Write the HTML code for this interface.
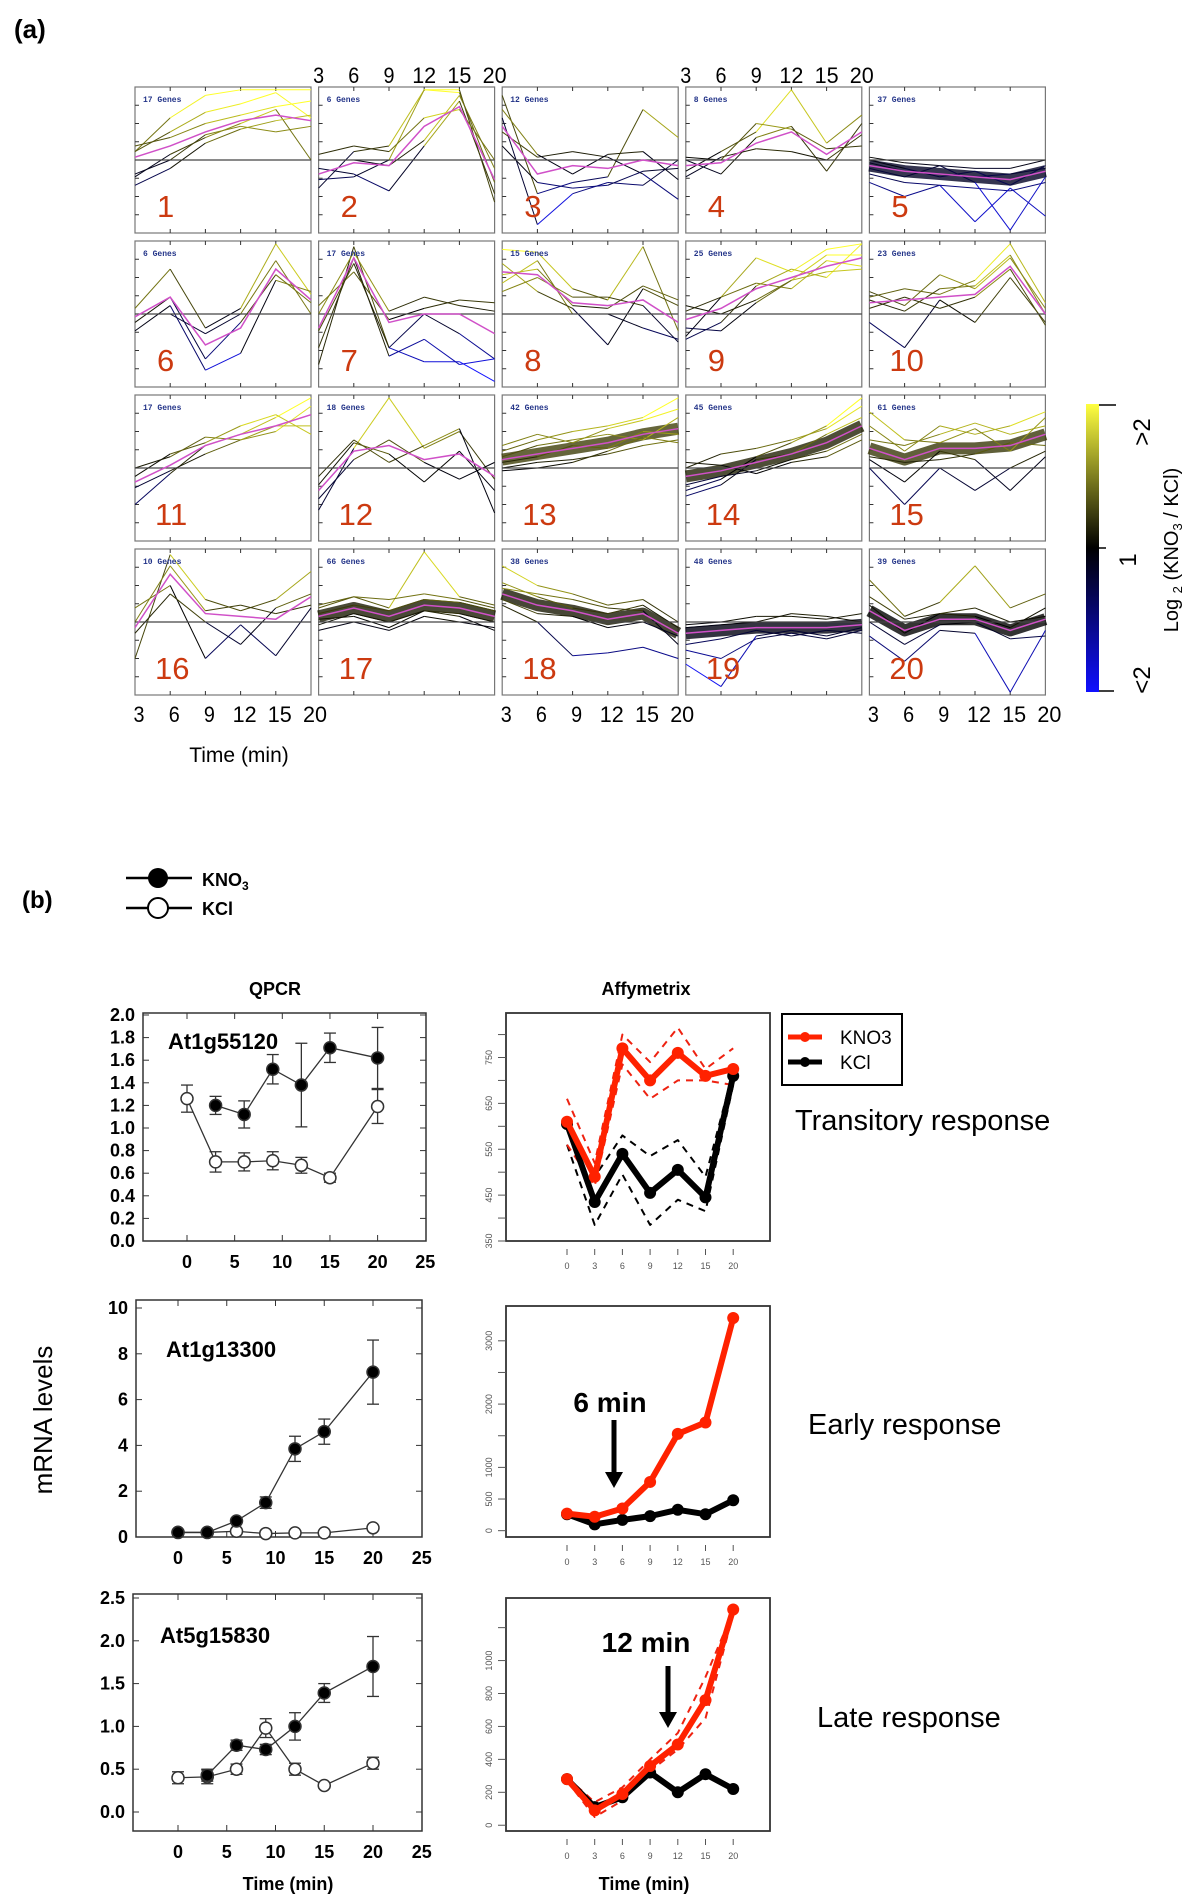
<!DOCTYPE html>
<html><head><meta charset="utf-8"><style>
html,body{margin:0;padding:0;background:#fff;}
svg{display:block;font-family:"Liberation Sans",sans-serif;}
</style></head><body>
<svg id="fig" width="1200" height="1904" viewBox="0 0 1200 1904" xmlns="http://www.w3.org/2000/svg">
<text x="14" y="38" font-size="26" font-weight="bold">(a)</text>
<text x="239" y="762" font-size="21" text-anchor="middle">Time (min)</text>
<defs><linearGradient id="cbg" x1="0" y1="0" x2="0" y2="1"><stop offset="0" stop-color="#ffff40"/><stop offset="0.5" stop-color="#000000"/><stop offset="1" stop-color="#1010ff"/></linearGradient></defs>
<g>
<rect x="1086" y="404" width="13" height="288" fill="url(#cbg)"/>
<line x1="1099" y1="405" x2="1116" y2="405" stroke="#000" stroke-width="1.5"/>
<line x1="1099" y1="548" x2="1106" y2="548" stroke="#000" stroke-width="1.5"/>
<line x1="1099" y1="691" x2="1114" y2="691" stroke="#000" stroke-width="1.5"/>
<text transform="translate(1150,432) rotate(-90)" font-size="24" text-anchor="middle">&gt;2</text>
<text transform="translate(1136,560) rotate(-90)" font-size="24" text-anchor="middle">1</text>
<text transform="translate(1150,680) rotate(-90)" font-size="24" text-anchor="middle">&lt;2</text>
<text transform="translate(1178,550) rotate(-90)" font-size="20" text-anchor="middle">Log <tspan font-size="13" dy="4">2</tspan><tspan dy="-4"> (KNO</tspan><tspan font-size="13" dy="4">3</tspan><tspan dy="-4"> / KCl)</tspan></text>
</g>
<g id="clusters"></g>

<text x="22" y="908" font-size="24" font-weight="bold">(b)</text>
<g>
<line x1="126" y1="878" x2="192" y2="878" stroke="#000" stroke-width="2.5"/>
<circle cx="158" cy="878" r="10" fill="#000"/>
<text x="202" y="886" font-size="18" font-weight="bold">KNO<tspan font-size="12" dy="4">3</tspan></text>
<line x1="126" y1="908" x2="192" y2="908" stroke="#000" stroke-width="2.5"/>
<circle cx="158" cy="908" r="10" fill="#fff" stroke="#000" stroke-width="2"/>
<text x="202" y="915" font-size="18" font-weight="bold">KCl</text>
</g>
<text x="275" y="995" font-size="18" font-weight="bold" text-anchor="middle">QPCR</text>
<text x="646" y="995" font-size="18" font-weight="bold" text-anchor="middle">Affymetrix</text>
<text transform="translate(52,1420) rotate(-90)" font-size="26" text-anchor="middle">mRNA levels</text>
<text x="288" y="1890" font-size="18" font-weight="bold" text-anchor="middle">Time (min)</text>
<text x="644" y="1890" font-size="18" font-weight="bold" text-anchor="middle">Time (min)</text>
<text x="795" y="1130" font-size="29">Transitory response</text>
<text x="808" y="1434" font-size="29">Early response</text>
<text x="817" y="1727" font-size="29">Late  response</text>
<g id="bcharts"></g>
</svg>
<script>
// ---------- Panel (a) cluster data ----------
const clusterGeneCounts=[17,6,12,8,37,6,17,15,25,23,17,18,42,45,61,10,66,38,48,39];
const timeTicks=["3","6","9","12","15","20"];
const clusterMeans=[
[0.1,0.5,1.0,1.4,1.6,1.4],[-0.5,-0.1,-0.2,1.2,1.9,-0.7],[1.2,-0.5,-0.2,-0.3,0,-0.2],[-0.2,-0.1,0.6,1.0,0.2,1.0],[-0.2,-0.4,-0.5,-0.6,-0.7,-0.4],
[-0.1,0.6,-1.1,-0.5,1.6,0.5],[-0.5,2.0,-0.3,0,0,-0.7],[1.5,1.4,0.4,0.3,0.5,-0.3],[-0.2,0.2,0.9,1.3,1.7,2.0],[0.4,0.5,0.6,0.7,1.7,0.0],
[-0.5,0.1,0.8,1.2,1.5,1.9],[-0.8,0.6,0.8,0.3,0.5,-0.3],[0.3,0.5,0.7,0.9,1.2,1.4],[-0.3,-0.1,0.2,0.5,0.9,1.5],[0.7,0.3,0.7,0.7,0.8,1.2],
[-0.2,1.7,0.3,0.2,0.1,0.9],[0.2,0.5,0.2,0.6,0.5,0.2],[1.0,0.6,0.4,0.1,0.3,-0.4],[-0.4,-0.3,-0.2,-0.2,-0.2,-0.1],[0.4,-0.3,0.1,0.1,-0.3,0.1]];
const clusterGenes=[
[[0.3,1.5,2.3,2.5,2.5,2.5],[0.3,1.0,1.7,2.0,2.4,1.5],[-0.5,0,0.9,1.2,1.0,1.2],[-0.6,0.2,0.8,1.3,1.8,0.0],[0.5,0.8,1.3,1.6,1.9,2.1],[-0.9,-0.3,0.6,1.1,1.4,1.6]],
[[-1.0,0.3,0.5,2.5,2.5,-1.5],[0,0,-0.2,0.7,2.3,-0.3],[-0.3,-0.5,-1.1,0.5,2.1,-1.2],[-0.7,-0.6,0,2.5,2.4,-0.8],[0.2,0.5,0.3,1.5,1.8,0]],
[[2.3,-1.2,-0.8,-0.6,1.8,0.8],[1.5,-2.3,-1.2,-0.8,-0.9,0],[1.0,0.1,0.3,0.1,-0.5,-1.4],[0.5,-0.8,-1.0,-0.9,-0.4,-0.3],[1.8,0.2,-0.5,0.2,0.3,-0.7]],
[[-0.4,0.3,1.0,2.5,0.6,1.6],[0,-0.5,0.8,1.2,-0.4,1.3],[-0.6,0.1,0.4,0.3,0.0,0.9],[0.1,0,1.3,1.1,0.4,0.5]],
[[0.1,-0.1,-0.2,-0.3,-0.3,0],[-0.5,-0.8,-0.9,-1.0,-1.1,-0.8],[-0.8,-1.3,-0.9,-2.2,-1.0,-2.0],[0,-0.3,-0.6,-0.4,-0.9,-0.2],[-0.3,-0.6,-0.2,-0.8,-2.5,-0.6],[-0.1,-0.4,-0.5,-0.6,-0.5,-0.3]],
[[0.2,1.6,-0.5,0.2,2.5,0.7],[-0.6,0.3,-2.0,-1.4,1.2,0.8],[0,0,-0.7,0,1.9,0],[-0.3,0.6,-1.6,-0.3,1.4,0.4]],
[[-1.8,2.4,-1.2,-1.7,-1.7,-2.4],[0,2.2,0.1,0.6,0.3,0.1],[-0.6,1.8,-1.2,0.0,-0.7,-1.6],[0.3,1.5,-0.2,0.2,0.5,0.4],[-1.2,2.0,-1.5,-0.9,-1.8,-1.6]],
[[2.3,2.2,0.9,0.5,2.4,-0.6],[1.1,1.9,0.0,0.0,-0.5,-0.9],[1.8,0.8,0.2,-1.1,0.9,0.3],[0.8,1.3,0.6,0.6,0.3,-1.0],[1.4,1.6,0.3,0.2,1.0,0.5]],
[[-0.8,0.6,2.0,1.5,2.3,2.5],[0.3,0.0,0.5,1.2,2.1,2.1],[-0.9,-0.3,1.0,1.6,1.3,2.5],[0.1,0.6,1.1,0.9,1.9,1.7],[-0.5,-0.6,0.4,1.2,1.5,1.6]],
[[0.6,0.9,0.7,1.2,2.5,0.4],[-0.3,-1.2,0.5,-0.3,1.3,-0.3],[0.8,0.3,1.4,0.9,2.0,0.2],[0.2,0.6,0.2,0.6,1.6,-0.4],[0.5,0.1,0.9,1.0,2.1,0.0]],
[[-1.3,-0.2,0.8,1.2,1.8,2.5],[-0.3,0.5,0.9,1.5,1.9,1.2],[-0.7,-0.1,0.5,1.0,1.3,2.2],[0,0.4,1.1,1.0,1.5,1.5]],
[[-1.5,0.7,2.5,0.7,1.3,-0.4],[-0.3,1.0,0.2,0.8,1.4,-1.6],[-1.1,0.3,1.0,0.2,-0.4,0.2],[-0.6,0.9,0.5,-0.5,0.6,-0.8]],
[[0.6,1.0,1.3,1.5,1.8,2.5],[0.0,0.2,0.3,0.5,0.8,1.0],[0.4,0.8,1.0,1.2,1.0,1.8],[-0.1,0.0,0.2,0.6,1.1,0.9],[0.8,1.2,0.9,1.4,1.7,2.1],[0.2,0.4,0.8,0.7,1.3,1.2]],
[[-0.8,-0.4,0.4,0.9,1.5,2.5],[0.2,0.1,-0.2,0.2,0.4,1.0],[-1.0,-0.6,0.3,0.5,1.2,1.8],[0,0.5,0.7,1.0,1.4,2.2],[-0.6,-0.3,-0.1,0.3,0.6,1.2]],
[[1.5,0.6,1.5,1.2,1.5,2.0],[0.0,-1.3,0.0,-0.8,0.0,0.6],[1.0,0.8,1.2,1.6,1.2,1.5],[0.4,0.2,0.3,0.5,0.9,0.8],[2.0,1.0,0.9,1.4,0.6,1.8],[0.3,-0.5,0.6,0.3,-0.8,0.4]],
[[-1.3,2.4,0.8,0.4,0.8,1.8],[0.5,1.3,-1.3,-0.1,-1.2,0.5],[0,2.0,0.4,0.6,0.3,0.6],[-0.4,1.0,0.0,-0.8,0.5,1.0]],
[[0.5,0.9,0.5,2.5,0.9,0.6],[-0.3,0.0,-0.3,0.2,0.0,-0.2],[0.3,0.6,0.4,0.8,0.7,0.4],[-0.1,0.3,0.0,0.4,0.3,0.0],[0.6,0.9,0.8,1.0,0.8,0.5],[0.1,0.2,-0.2,0.4,0.2,-0.3]],
[[2.0,1.3,1.0,0.6,0.8,0.0],[0.6,0.0,-1.2,-1.1,-0.9,-1.3],[1.4,0.9,0.5,0.3,0.6,-0.2],[0.8,0.3,0.2,-0.2,0.0,-0.5],[1.2,1.0,0.8,0.5,0.4,-0.8]],
[[-1.5,-2.3,-0.5,-0.3,-0.5,-0.2],[-0.1,0.0,0.2,0.2,0.1,0.3],[-0.8,-0.6,-0.3,-0.5,-0.3,-0.4],[-0.2,-0.1,0.0,0.3,0.2,0.0],[-1.0,-1.3,-0.6,-0.4,-0.6,-0.3]],
[[1.5,0.2,0.7,2.0,0.5,1.0],[-0.5,-1.4,-0.3,-0.4,-2.5,-0.3],[0.6,-0.4,0.3,0.2,-0.2,0.5],[0.0,-0.8,-0.1,0.0,-0.6,-0.5],[0.9,0.1,0.3,0.5,0.0,0.2]]];

// ---------- Panel (b) data ----------
const qTimes=[0,3,6,9,12,15,20];
const q1KNO3=[null,1.20,1.12,1.52,1.38,1.71,1.62];
const q1KNO3Err=[0,0.08,0.12,0.13,0.37,0.13,0.27];
const q1KCl=[1.26,0.70,0.70,0.71,0.67,0.56,1.19];
const q1KClErr=[0.12,0.09,0.08,0.08,0.07,0.04,0.15];
const q2KNO3=[0.2,0.2,0.7,1.5,3.85,4.6,7.2];
const q2KNO3Err=[0,0,0.1,0.25,0.55,0.55,1.4];
const q2KCl=[0.2,0.2,0.25,0.15,0.18,0.18,0.4];
const q2KClErr=[0,0,0,0,0,0,0.1];
const q3KNO3=[null,0.43,0.78,0.73,1.0,1.39,1.7];
const q3KNO3Err=[0,0.07,0.06,0.06,0.16,0.11,0.35];
const q3KCl=[0.40,0.41,0.50,0.98,0.50,0.31,0.57];
const q3KClErr=[0.07,0.08,0.06,0.11,0.07,0.03,0.07];
const affyTimes=["0","3","6","9","12","15","20"];
const a1KNO3=[610,490,770,700,760,710,725];
const a1KNO3Hi=[660,520,800,740,815,725,770];
const a1KNO3Lo=[560,470,735,660,700,700,690];
const a1KCl=[605,435,540,455,505,445,710];
const a1KClHi=[600,490,580,535,570,490,720];
const a1KClLo=[560,385,495,385,440,415,690];
const a2KNO3=[270,220,350,770,1530,1710,3360];
const a2KCl=[260,100,170,230,330,260,480];
const a3KNO3=[280,90,190,360,490,760,1310];
const a3KNO3Hi=[290,140,230,400,560,900,1300];
const a3KNO3Lo=[270,50,150,330,460,650,1280];
const a3KCl=[280,110,170,320,200,310,220];

const NS="http://www.w3.org/2000/svg";
function mk(tag,attrs,parent){const e=document.createElementNS(NS,tag);for(const k in attrs)e.setAttribute(k,attrs[k]);parent.appendChild(e);return e;}
function valColor(v){
  const t=Math.max(-1,Math.min(1,v/2));
  if(t>=0){const c=Math.round(255*t);return `rgb(${c},${c},${Math.round(40*t)})`;}
  const c=Math.round(255*-t);return `rgb(${Math.round(20*-t)},${Math.round(20*-t)},${c})`;
}
// Panel (a)
const cg=document.getElementById('clusters');
for(let i=0;i<20;i++){
  const col=i%5,row=Math.floor(i/5);
  const x0=135+col*183.6,y0=87+row*154,w=176,h=146;
  const xs=k=>x0+k*w/5;
  const ys=v=>y0+h/2-v*(h/2)/2.6;
  const g=mk('g',{},cg);
  
  
  const fr=mk('rect',{x:x0,y:y0,width:w,height:h,fill:'#fff',stroke:'#777','stroke-width':1.2},g);
  
  
  for(let k=1;k<5;k++){mk('line',{x1:xs(k),y1:y0,x2:xs(k),y2:y0+4,stroke:'#333'},g);mk('line',{x1:xs(k),y1:y0+h,x2:xs(k),y2:y0+h-4,stroke:'#333'},g);}
  for(let k=1;k<8;k++){mk('line',{x1:x0,y1:y0+k*h/8,x2:x0+4,y2:y0+k*h/8,stroke:'#333'},g);}
  const dense=clusterGeneCounts[i]>30;
  if(dense){
    const band=mk('polyline',{points:clusterMeans[i].map((v,k)=>xs(k)+','+ys(v)).join(' '),fill:'none',stroke:valColor(clusterMeans[i].reduce((a,b)=>a+b)/6*0.6),'stroke-width':12,'stroke-opacity':0.8,'stroke-linejoin':'round'},g);
    
    
  }
  clusterGenes[i].forEach(gene=>{
    for(let k=0;k<5;k++){
      const s=mk('line',{x1:xs(k),y1:ys(gene[k]),x2:xs(k+1),y2:ys(gene[k+1]),stroke:valColor((gene[k]+gene[k+1])/2),'stroke-width':1},g);
      
      
    }
  });
  const zl=mk('line',{x1:x0,y1:ys(0),x2:x0+w,y2:ys(0),stroke:'#444','stroke-width':1.2},g);
  
  
  const m=mk('polyline',{points:clusterMeans[i].map((v,k)=>xs(k)+','+ys(v)).join(' '),fill:'none',stroke:'#d050c8','stroke-width':1.5},g);
  
  
  const gt=mk('text',{x:x0+8,y:y0+15,'font-size':8,fill:'#223388','font-family':'Liberation Mono, monospace','font-weight':'bold'},g);
  gt.textContent=clusterGeneCounts[i]+' Genes';
  
  
  const nt=mk('text',{x:x0+(i<9?22:20),y:y0+h-16,'font-size':31,fill:'#cc3a10'},g);
  nt.textContent=String(i+1);
  
  
  let lab=null;
  if(i===1||i===3) lab=y0-4;
  if(i===15||i===17||i===19) lab=y0+h+27;
  if(lab!==null){
    timeTicks.forEach((t,k)=>{
      const tt=mk('text',{x:xs(k)+(row===3?4:0),y:lab,'font-size':22,'text-anchor':'middle',textLength:t.length>1?24:11,lengthAdjust:'spacingAndGlyphs'},g);
      tt.textContent=t;
      
      
    });
  }
}

// Panel (b)
const bg=document.getElementById('bcharts');
function qpcr(name,label,box,xmax,ymin,ymax,yTicks,yFmt,kno3,kno3e,kcl,kcle,labelPos){
  const g=mk('g',{},bg);
  
  
  const [bx0,by0,bx1,by1,xz,xu,yTop,yBot]=box;
  const xs=t=>xz+t*xu;
  const ys=v=>yBot-(v-ymin)/(ymax-ymin)*(yBot-yTop);
  mk('rect',{x:bx0,y:by0,width:bx1-bx0,height:by1-by0,fill:'none',stroke:'#333','stroke-width':1.5},g);
  [0,5,10,15,20,25].forEach(t=>{
    if(t<25){mk('line',{x1:xs(t),y1:by1,x2:xs(t),y2:by1-6,stroke:'#333'},g);mk('line',{x1:xs(t),y1:by0,x2:xs(t),y2:by0+6,stroke:'#333'},g);}
    const tl=mk('text',{x:xs(t),y:by1+27,'font-size':18,'font-weight':'bold','text-anchor':'middle'},g);
    tl.textContent=String(t);
    
    
  });
  yTicks.forEach(v=>{
    mk('line',{x1:bx0,y1:ys(v),x2:bx0+6,y2:ys(v),stroke:'#333'},g);
    mk('line',{x1:bx1,y1:ys(v),x2:bx1-6,y2:ys(v),stroke:'#333'},g);
    const tl=mk('text',{x:bx0-8,y:ys(v)+6,'font-size':18,'font-weight':'bold','text-anchor':'end'},g);
    tl.textContent=yFmt(v);
    
    
  });
  const gl=mk('text',{x:labelPos[0],y:labelPos[1],'font-size':22,'font-weight':'bold'},g);
  gl.textContent=label;
  
  
  function series(vals,errs,filled,sname){
    const pts=[];vals.forEach((v,k)=>{if(v!==null)pts.push(xs(qTimes[k])+','+ys(v));});
    const pl=mk('polyline',{points:pts.join(' '),fill:'none',stroke:'#333','stroke-width':1.3},g);
    
    
    vals.forEach((v,k)=>{
      if(v===null)return;
      const x=xs(qTimes[k]);
      if(errs[k]>0){
        mk('line',{x1:x,y1:ys(v-errs[k]),x2:x,y2:ys(v+errs[k]),stroke:'#333','stroke-width':1.3},g);
        mk('line',{x1:x-6,y1:ys(v-errs[k]),x2:x+6,y2:ys(v-errs[k]),stroke:'#333','stroke-width':1.3},g);
        mk('line',{x1:x-6,y1:ys(v+errs[k]),x2:x+6,y2:ys(v+errs[k]),stroke:'#333','stroke-width':1.3},g);
      }
      const c=mk('circle',{cx:x,cy:ys(v),r:6,fill:filled?'#000':'#fff',stroke:'#333','stroke-width':1.5},g);
      
      
    });
  }
  series(kcl,kcle,false,'kcl');
  series(kno3,kno3e,true,'kno3');
}
qpcr('qpcr-at1g55120','At1g55120',[143,1013,426,1241,187,9.53,1015,1241],25,0,2,[0,0.2,0.4,0.6,0.8,1.0,1.2,1.4,1.6,1.8,2.0],v=>v.toFixed(1),q1KNO3,q1KNO3Err,q1KCl,q1KClErr,[168,1049]);
qpcr('qpcr-at1g13300','At1g13300',[136,1300,422,1537,178,9.75,1308,1537],25,0,10,[0,2,4,6,8,10],v=>String(v),q2KNO3,q2KNO3Err,q2KCl,q2KClErr,[166,1357]);
qpcr('qpcr-at5g15830','At5g15830',[133,1594,422,1831,178,9.75,1598,1812],25,0,2.5,[0,0.5,1.0,1.5,2.0,2.5],v=>v.toFixed(1),q3KNO3,q3KNO3Err,q3KCl,q3KClErr,[160,1643]);

function affy(name,box,ymin,ymax,yTicks,yLabeled,kno3,kno3hi,kno3lo,kcl,kclhi,kcllo){
  const g=mk('g',{},bg);
  
  
  const [bx0,by0,bx1,by1]=box;
  const xs=k=>567+k*27.7;
  const ys=v=>by1-(v-ymin)/(ymax-ymin)*(by1-by0);
  mk('rect',{x:bx0,y:by0,width:bx1-bx0,height:by1-by0,fill:'none',stroke:'#333','stroke-width':1.8},g);
  affyTimes.forEach((t,k)=>{
    mk('line',{x1:xs(k),y1:by1+8,x2:xs(k),y2:by1+14,stroke:'#555'},g);
    const tl=mk('text',{x:xs(k),y:by1+28,'font-size':9,fill:'#555','text-anchor':'middle'},g);
    tl.textContent=t;
    
    
  });
  yTicks.forEach(v=>{
    mk('line',{x1:bx0-8,y1:ys(v),x2:bx0,y2:ys(v),stroke:'#555'},g);
    if(yLabeled.indexOf(v)>=0){
      const tl=mk('text',{transform:`translate(${bx0-14},${ys(v)}) rotate(-90)`,'font-size':9,fill:'#555','text-anchor':'middle'},g);
      tl.textContent=String(v);
      
      
    }
  });
  function line(vals,color,w,dash,sname,dots){
    const pl=mk('polyline',{points:vals.map((v,k)=>xs(k)+','+ys(v)).join(' '),fill:'none',stroke:color,'stroke-width':w,'stroke-dasharray':dash||'none','stroke-linejoin':'round'},g);
    
    
    if(dots) vals.forEach((v,k)=>{
      const c=mk('circle',{cx:xs(k),cy:ys(v),r:6,fill:color},g);
      
      
    });
  }
  if(kclhi){line(kclhi,'#000',2,'7,6','kcl-upper-dashed');line(kcllo,'#000',2,'7,6','kcl-lower-dashed');}
  if(kno3hi){line(kno3hi,'#ee2211',2,'7,6','kno3-upper-dashed');line(kno3lo,'#ee2211',2,'7,6','kno3-lower-dashed');}
  line(kcl,'#000',6,null,'kcl-line',true);
  line(kno3,'#ff2200',6,null,'kno3-line',true);
}
affy('affy-transitory',[506,1013,770,1241],350,847,[350,400,450,500,550,600,650,700,750,800],[350,450,550,650,750],a1KNO3,a1KNO3Hi,a1KNO3Lo,a1KCl,a1KClHi,a1KClLo);
affy('affy-early',[506,1306,770,1537],-100,3550,[0,500,1000,1500,2000,2500,3000],[0,500,1000,2000,3000],a2KNO3,null,null,a2KCl,null,null);
affy('affy-late',[506,1598,770,1831],-35,1380,[0,200,400,600,800,1000,1200],[0,200,400,600,800,1000],a3KNO3,a3KNO3Hi,a3KNO3Lo,a3KCl,null,null);

// Affy legend
const lg=mk('g',{},bg);


mk('rect',{x:782,y:1014,width:120,height:71,fill:'#fff',stroke:'#000','stroke-width':2},lg);
mk('line',{x1:788,y1:1037,x2:822,y2:1037,stroke:'#ff2200','stroke-width':5},lg);
mk('circle',{cx:805,cy:1037,r:5,fill:'#ff2200'},lg);
mk('line',{x1:788,y1:1062,x2:822,y2:1062,stroke:'#000','stroke-width':5},lg);
mk('circle',{cx:805,cy:1062,r:5,fill:'#000'},lg);
const l1=mk('text',{x:840,y:1044,'font-size':19},lg);l1.textContent='KNO3';
const l2=mk('text',{x:840,y:1069,'font-size':19},lg);l2.textContent='KCl';

// Annotations
function arrow(x,y1,y2,lbl,lx,ly,nm){
  const g=mk('g',{},bg);
  
  
  mk('line',{x1:x,y1:y1,x2:x,y2:y2-12,stroke:'#000','stroke-width':5},g);
  mk('polygon',{points:`${x-9},${y2-16} ${x+9},${y2-16} ${x},${y2}`,fill:'#000'},g);
  const t=mk('text',{x:lx,y:ly,'font-size':28,'font-weight':'bold','text-anchor':'middle'},g);
  t.textContent=lbl;
}
arrow(614,1420,1488,'6 min',610,1412,'annotation-6-min');
arrow(668,1666,1728,'12 min',646,1652,'annotation-12-min');
</script>
</body></html>
